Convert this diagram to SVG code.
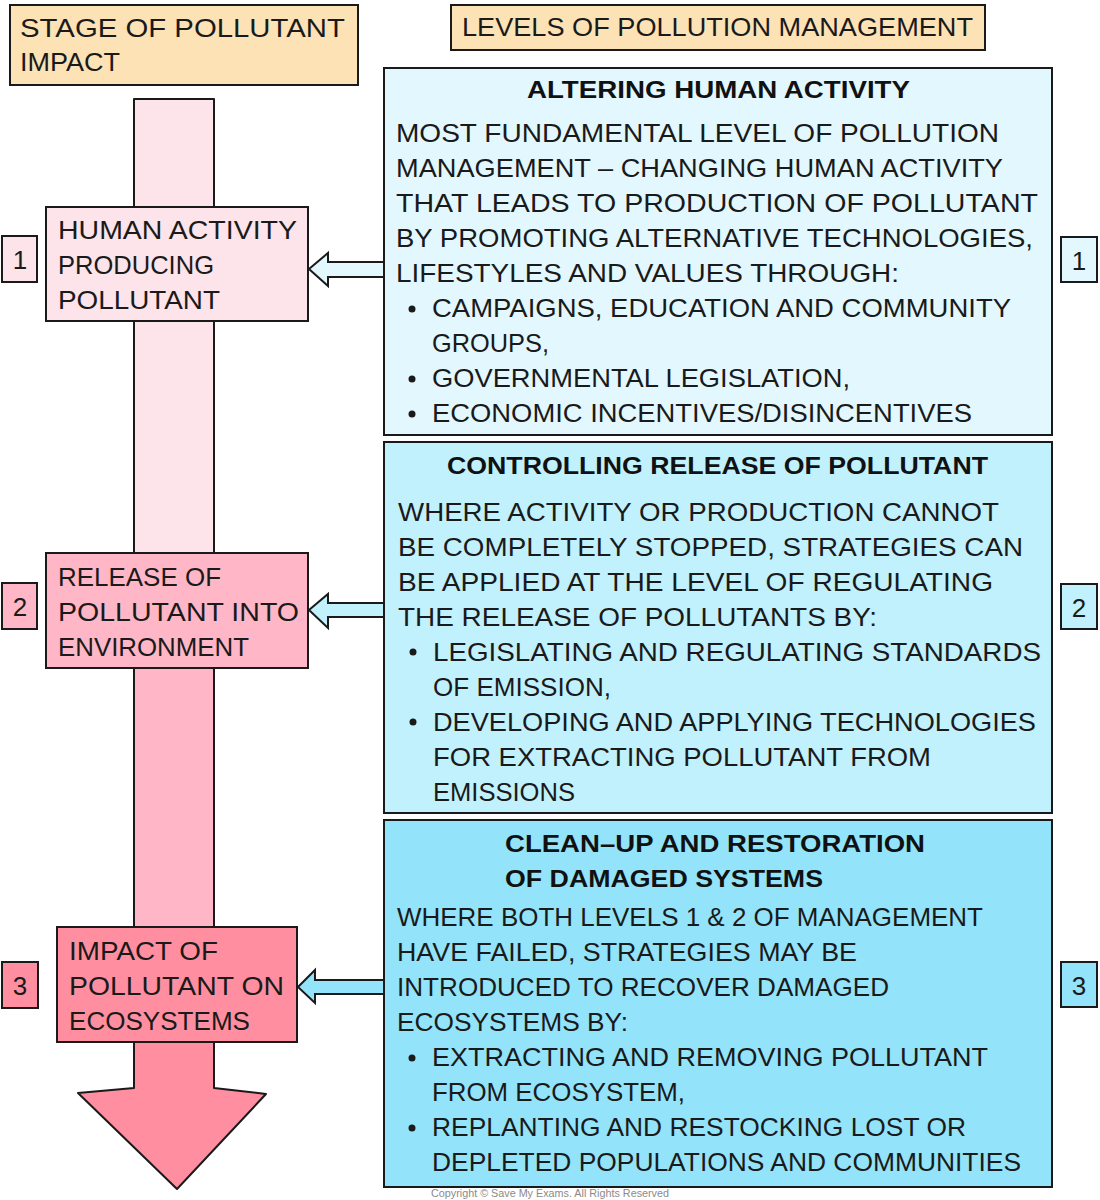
<svg xmlns="http://www.w3.org/2000/svg" width="1100" height="1200" viewBox="0 0 1100 1200">
<defs>
<style>
.box{stroke:#1a1a1a;stroke-width:2}
.t{font-family:"Liberation Sans",Arial,sans-serif;font-size:25px;fill:#1a1a1a}
.b{font-family:"Liberation Sans",Arial,sans-serif;font-size:24px;font-weight:bold;fill:#111}
.n{font-family:"Liberation Sans",Arial,sans-serif;font-size:26px;fill:#1a1a1a;text-anchor:middle}
.c{font-family:"Liberation Sans",Arial,sans-serif;font-size:10.5px;fill:#8a8a8a}
.l1{fill:#fde3ea}.l2{fill:#ffb6c6}.l3{fill:#ff8fa0}
.r1{fill:#e3f8fe}.r2{fill:#c2f1fe}.r3{fill:#93e4fa}
.hd{fill:#fde2b6}
</style>
<linearGradient id="shaft" gradientUnits="userSpaceOnUse" x1="0" y1="99" x2="0" y2="1190">
<stop offset="0" stop-color="#fde3ea"/><stop offset="0.416" stop-color="#fde3ea"/>
<stop offset="0.416" stop-color="#ffb6c6"/><stop offset="0.759" stop-color="#ffb6c6"/>
<stop offset="0.759" stop-color="#ff8fa0"/><stop offset="1" stop-color="#ff8fa0"/>
</linearGradient>
</defs>
<rect width="1100" height="1200" fill="#fff"/>

<g id="header-stage">
<rect class="box hd" x="10" y="5" width="348" height="80"/>
<text class="t" x="20" y="37" textLength="325" lengthAdjust="spacingAndGlyphs">STAGE OF POLLUTANT</text>
<text class="t" x="20" y="71" textLength="100" lengthAdjust="spacingAndGlyphs">IMPACT</text>
</g>
<g id="header-levels">
<rect class="box hd" x="451" y="5" width="534" height="45"/>
<text class="t" x="462" y="36" textLength="511" lengthAdjust="spacingAndGlyphs">LEVELS OF POLLUTION MANAGEMENT</text>
</g>

<g id="stage-arrow">
<path d="M134,99 H214 V1088 L266,1094 L177,1189 L78,1093 L134,1088 Z" fill="url(#shaft)" stroke="#1a1a1a" stroke-width="2" stroke-linejoin="round"/>
</g>

<g id="connectors">
<path class="box r1" d="M309,269 L328,253 V262 H384 V277 H328 V286 Z"/>
<path class="box r2" d="M309,610 L328,594 V603 H384 V617 H328 V628 Z"/>
<path class="box r3" d="M298,987 L315,970 V980 H384 V994 H315 V1003 Z"/>
</g>

<g id="stage1">
<rect class="box l1" x="46" y="207" width="262" height="114"/>
<text class="t" x="58" y="239" textLength="239" lengthAdjust="spacingAndGlyphs">HUMAN ACTIVITY</text>
<text class="t" x="58" y="274" textLength="156" lengthAdjust="spacingAndGlyphs">PRODUCING</text>
<text class="t" x="58" y="309" textLength="162" lengthAdjust="spacingAndGlyphs">POLLUTANT</text>
</g>
<g id="label-l1"><rect class="box l1" x="2" y="236" width="35" height="46"/><text class="n" x="20" y="269">1</text></g>

<g id="stage2">
<rect class="box l2" x="46" y="553" width="262" height="115"/>
<text class="t" x="58" y="586" textLength="163" lengthAdjust="spacingAndGlyphs">RELEASE OF</text>
<text class="t" x="58" y="621" textLength="241" lengthAdjust="spacingAndGlyphs">POLLUTANT INTO</text>
<text class="t" x="58" y="656" textLength="191" lengthAdjust="spacingAndGlyphs">ENVIRONMENT</text>
</g>
<g id="label-l2"><rect class="box l2" x="2" y="583" width="35" height="46"/><text class="n" x="20" y="616">2</text></g>

<g id="stage3">
<rect class="box l3" x="57" y="927" width="240" height="115"/>
<text class="t" x="69" y="960" textLength="149" lengthAdjust="spacingAndGlyphs">IMPACT OF</text>
<text class="t" x="69" y="995" textLength="215" lengthAdjust="spacingAndGlyphs">POLLUTANT ON</text>
<text class="t" x="69" y="1030" textLength="181" lengthAdjust="spacingAndGlyphs">ECOSYSTEMS</text>
</g>
<g id="label-l3"><rect class="box l3" x="2" y="962" width="36" height="46"/><text class="n" x="20" y="995">3</text></g>

<g id="level1">
<rect class="box r1" x="384" y="68" width="668" height="367"/>
<text class="b" x="527" y="98" textLength="383" lengthAdjust="spacingAndGlyphs">ALTERING HUMAN ACTIVITY</text>
<text class="t" x="396" y="142" textLength="603" lengthAdjust="spacingAndGlyphs">MOST FUNDAMENTAL LEVEL OF POLLUTION</text>
<text class="t" x="396" y="177" textLength="607" lengthAdjust="spacingAndGlyphs">MANAGEMENT – CHANGING HUMAN ACTIVITY</text>
<text class="t" x="396" y="212" textLength="642" lengthAdjust="spacingAndGlyphs">THAT LEADS TO PRODUCTION OF POLLUTANT</text>
<text class="t" x="396" y="247" textLength="637" lengthAdjust="spacingAndGlyphs">BY PROMOTING ALTERNATIVE TECHNOLOGIES,</text>
<text class="t" x="396" y="282" textLength="503" lengthAdjust="spacingAndGlyphs">LIFESTYLES AND VALUES THROUGH:</text>
<circle cx="412" cy="309" r="3.5" fill="#1a1a1a"/>
<text class="t" x="432" y="317" textLength="579" lengthAdjust="spacingAndGlyphs">CAMPAIGNS, EDUCATION AND COMMUNITY</text>
<text class="t" x="432" y="352" textLength="117" lengthAdjust="spacingAndGlyphs">GROUPS,</text>
<circle cx="412" cy="379" r="3.5" fill="#1a1a1a"/>
<text class="t" x="432" y="387" textLength="418" lengthAdjust="spacingAndGlyphs">GOVERNMENTAL LEGISLATION,</text>
<circle cx="412" cy="414" r="3.5" fill="#1a1a1a"/>
<text class="t" x="432" y="422" textLength="540" lengthAdjust="spacingAndGlyphs">ECONOMIC  INCENTIVES/DISINCENTIVES</text>
</g>
<g id="label-r1"><rect class="box r1" x="1061" y="237" width="36" height="45"/><text class="n" x="1079" y="270">1</text></g>

<g id="level2">
<rect class="box r2" x="384" y="442" width="668" height="371"/>
<text class="b" x="447" y="474" textLength="541" lengthAdjust="spacingAndGlyphs">CONTROLLING RELEASE OF POLLUTANT</text>
<text class="t" x="398" y="521" textLength="601" lengthAdjust="spacingAndGlyphs">WHERE ACTIVITY OR PRODUCTION CANNOT</text>
<text class="t" x="398" y="556" textLength="625" lengthAdjust="spacingAndGlyphs">BE  COMPLETELY STOPPED, STRATEGIES CAN</text>
<text class="t" x="398" y="591" textLength="595" lengthAdjust="spacingAndGlyphs">BE APPLIED AT THE LEVEL OF REGULATING</text>
<text class="t" x="398" y="626" textLength="479" lengthAdjust="spacingAndGlyphs">THE RELEASE OF POLLUTANTS BY:</text>
<circle cx="413" cy="652" r="3.5" fill="#1a1a1a"/>
<text class="t" x="433" y="661" textLength="608" lengthAdjust="spacingAndGlyphs">LEGISLATING AND REGULATING STANDARDS</text>
<text class="t" x="433" y="696" textLength="178" lengthAdjust="spacingAndGlyphs">OF EMISSION,</text>
<circle cx="413" cy="722" r="3.5" fill="#1a1a1a"/>
<text class="t" x="433" y="731" textLength="603" lengthAdjust="spacingAndGlyphs">DEVELOPING AND APPLYING TECHNOLOGIES</text>
<text class="t" x="433" y="766" textLength="498" lengthAdjust="spacingAndGlyphs">FOR EXTRACTING POLLUTANT FROM</text>
<text class="t" x="433" y="801" textLength="142" lengthAdjust="spacingAndGlyphs">EMISSIONS</text>
</g>
<g id="label-r2"><rect class="box r2" x="1061" y="584" width="36" height="45"/><text class="n" x="1079" y="617">2</text></g>

<g id="level3">
<rect class="box r3" x="384" y="820" width="668" height="367"/>
<text class="b" x="505" y="852" textLength="420" lengthAdjust="spacingAndGlyphs">CLEAN–UP AND RESTORATION</text>
<text class="b" x="505" y="887" textLength="318" lengthAdjust="spacingAndGlyphs">OF DAMAGED SYSTEMS</text>
<text class="t" x="397" y="926" textLength="586" lengthAdjust="spacingAndGlyphs">WHERE BOTH LEVELS 1 &amp; 2 OF MANAGEMENT</text>
<text class="t" x="397" y="961" textLength="460" lengthAdjust="spacingAndGlyphs">HAVE FAILED, STRATEGIES MAY BE</text>
<text class="t" x="397" y="996" textLength="492" lengthAdjust="spacingAndGlyphs">INTRODUCED TO RECOVER DAMAGED</text>
<text class="t" x="397" y="1031" textLength="231" lengthAdjust="spacingAndGlyphs">ECOSYSTEMS BY:</text>
<circle cx="412" cy="1058" r="3.5" fill="#1a1a1a"/>
<text class="t" x="432" y="1066" textLength="556" lengthAdjust="spacingAndGlyphs">EXTRACTING AND REMOVING POLLUTANT</text>
<text class="t" x="432" y="1101" textLength="253" lengthAdjust="spacingAndGlyphs">FROM ECOSYSTEM,</text>
<circle cx="412" cy="1128" r="3.5" fill="#1a1a1a"/>
<text class="t" x="432" y="1136" textLength="534" lengthAdjust="spacingAndGlyphs">REPLANTING AND RESTOCKING LOST OR</text>
<text class="t" x="432" y="1171" textLength="589" lengthAdjust="spacingAndGlyphs">DEPLETED POPULATIONS AND COMMUNITIES</text>
</g>
<g id="label-r3"><rect class="box r3" x="1061" y="962" width="36" height="45"/><text class="n" x="1079" y="995">3</text></g>

<text class="c" x="431" y="1197" textLength="238" lengthAdjust="spacingAndGlyphs">Copyright © Save My Exams. All Rights Reserved</text>
</svg>
